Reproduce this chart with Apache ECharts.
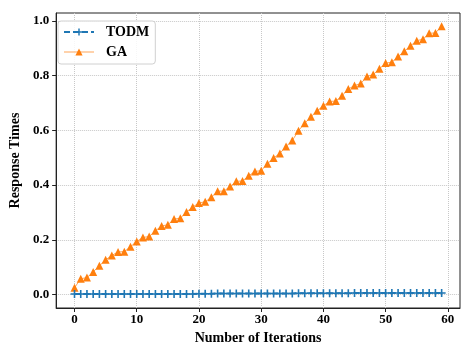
<!DOCTYPE html>
<html>
<head>
<meta charset="utf-8">
<script src="https://cdn.jsdelivr.net/npm/echarts@6/dist/echarts.min.js"></script>
<style>
html,body{margin:0;padding:0;background:#fff;}
#chart{width:474px;height:355px;}
</style>
</head>
<body>
<div id="chart"></div>
<script>
const iterations = [0,1,2,3,4,5,6,7,8,9,10,11,12,13,14,15,16,17,18,19,20,21,22,23,24,25,26,27,28,29,30,31,32,33,34,35,36,37,38,39,40,41,42,43,44,45,46,47,48,49,50,51,52,53,54,55,56,57,58,59];
const gaValues = [0.025,0.058,0.062,0.083,0.105,0.127,0.143,0.156,0.157,0.175,0.194,0.209,0.212,0.233,0.251,0.255,0.276,0.279,0.302,0.320,0.335,0.339,0.356,0.378,0.378,0.395,0.414,0.415,0.434,0.450,0.453,0.478,0.499,0.516,0.541,0.563,0.599,0.626,0.650,0.672,0.690,0.706,0.707,0.727,0.751,0.764,0.771,0.797,0.804,0.825,0.846,0.849,0.870,0.889,0.909,0.928,0.933,0.955,0.956,0.981];
const todmValues = [0.002,0.002,0.002,0.002,0.002,0.002,0.002,0.002,0.002,0.002,0.002,0.002,0.002,0.002,0.002,0.002,0.002,0.002,0.002,0.002,0.003,0.003,0.003,0.004,0.004,0.004,0.004,0.004,0.004,0.004,0.004,0.004,0.004,0.004,0.004,0.004,0.005,0.005,0.005,0.005,0.005,0.005,0.005,0.005,0.005,0.006,0.006,0.006,0.006,0.006,0.006,0.006,0.006,0.006,0.006,0.006,0.006,0.006,0.006,0.006];
const xTicks = [0,10,20,30,40,50,60];
const yTicks = [0,0.2,0.4,0.6,0.8,1.0];
const seriesNames = ['TODM','GA'];

const FONT = "'Liberation Serif','Times New Roman',serif";
const chart = echarts.init(document.getElementById('chart'), null, {renderer:'canvas'});
const plusPath = 'path://M4,0H6V4H10V6H6V10H4V6H0V4H4Z';

chart.setOption({
  animation:false,
  backgroundColor:'#fff',
  grid:{left:50,right:14,top:13,bottom:47,show:true,borderColor:'#222',borderWidth:1,containLabel:false},
  legend:{
    orient:'vertical',left:58,top:21,
    padding:[4,6,5,5],
    itemWidth:30,itemHeight:9,itemGap:6,
    backgroundColor:'rgba(255,255,255,0.85)',
    borderColor:'#d0d0d0',borderWidth:1,borderRadius:3,
    textStyle:{fontFamily:FONT,fontWeight:'bold',fontSize:14,color:'#000',padding:[0,0,0,7]},
    data:[
      {name:seriesNames[0]},
      {name:seriesNames[1],lineStyle:{width:0.7}}
    ]
  },
  xAxis:{
    type:'value',min:-2.95,max:61.95,
    name:'Number of Iterations',nameLocation:'middle',nameGap:18,
    nameTextStyle:{fontFamily:FONT,fontWeight:'bold',fontSize:14,color:'#000'},
    axisLine:{show:true,onZero:false,lineStyle:{color:'#222',width:1}},
    axisTick:{show:true,inside:false,length:4,customValues:xTicks,lineStyle:{color:'#222'}},
    axisLabel:{customValues:xTicks,fontFamily:FONT,fontWeight:'bold',fontSize:13,color:'#000',margin:5},
    splitLine:{show:true,lineStyle:{color:'#c8c8c8',type:'dotted',width:1}}
  },
  yAxis:{
    type:'value',min:-0.049,max:1.029,
    name:'Response Times',nameLocation:'middle',nameGap:27,nameRotate:90,
    nameTextStyle:{fontFamily:FONT,fontWeight:'bold',fontSize:14,color:'#000'},
    axisLine:{show:true,onZero:false,lineStyle:{color:'#222',width:1}},
    axisTick:{show:true,inside:false,length:4,customValues:yTicks,lineStyle:{color:'#222'}},
    axisLabel:{customValues:yTicks,fontFamily:FONT,fontWeight:'bold',fontSize:13,color:'#000',margin:7,
      formatter:v=>v.toFixed(1)},
    splitLine:{show:true,lineStyle:{color:'#c8c8c8',type:'dotted',width:1}}
  },
  series:[
    {
      name:seriesNames[0],type:'line',
      data:iterations.map((x,i)=>[x,todmValues[i]]),
      symbol:plusPath,symbolSize:8,showAllSymbol:true,
      itemStyle:{color:'#1f77b4'},
      lineStyle:{color:'#1f77b4',width:2,type:[6,3]},
      z:3
    },
    {
      name:seriesNames[1],type:'line',
      data:iterations.map((x,i)=>[x,gaValues[i]]),
      symbol:'triangle',symbolSize:8,showAllSymbol:true,
      itemStyle:{color:'#ff7f0e'},
      lineStyle:{color:'#ff7f0e',width:0.7},
      z:2
    }
  ]
});
</script>
</body>
</html>
